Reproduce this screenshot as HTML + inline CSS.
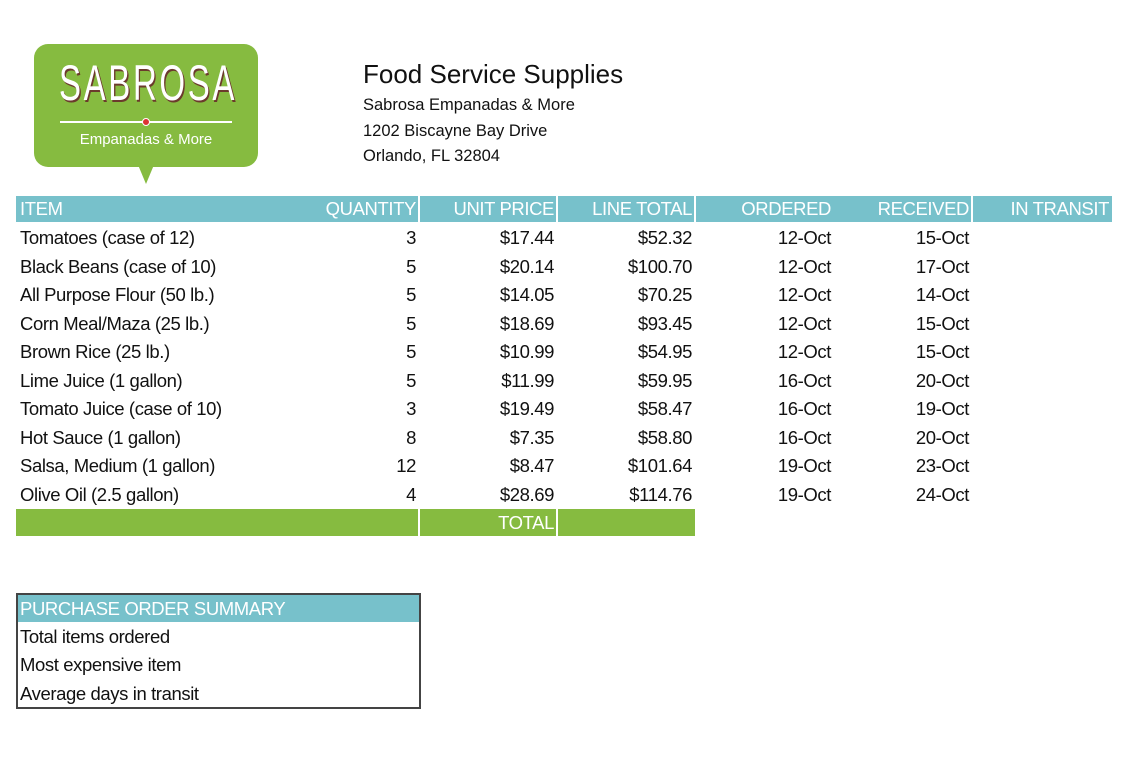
<!DOCTYPE html>
<html><head><meta charset="utf-8">
<style>
body{margin:0;width:1129px;height:758px;background:#fff;position:relative;overflow:hidden;font-family:"Liberation Sans",sans-serif;color:#111}
.a{position:absolute;white-space:nowrap}
.c{position:absolute;font-size:18.5px;line-height:28px;white-space:nowrap;letter-spacing:-0.4px}
.r{text-align:right}
.hd{color:#fff}
</style></head><body>
<div class="a" style="left:34px;top:44px;width:224px;height:123px;background:#86BB40;border-radius:14px"></div>
<div class="a" style="left:136px;top:160px;width:0;height:0;border-left:10px solid transparent;border-right:10px solid transparent;border-top:24px solid #86BB40"></div>
<div class="a" style="left:59px;top:54px;font-size:50px;color:#fff;letter-spacing:4px;transform:scaleX(0.66);transform-origin:0 0;text-shadow:2px 2px 0 #6b3a2c;font-family:'Liberation Sans Narrow','Liberation Sans',sans-serif">SABROSA</div>
<div class="a" style="left:60px;top:121px;width:172px;height:2px;background:#fff"></div>
<div class="a" style="left:142px;top:118px;width:6px;height:6px;background:#d33;border:1px solid #fff;border-radius:50%"></div>
<div class="a" style="left:34px;top:131px;width:224px;text-align:center;font-size:15px;color:#fff">Empanadas &amp; More</div>

<div class="a" style="left:363px;top:59px;font-size:26px">Food Service Supplies</div>
<div class="a" style="left:363px;top:96px;font-size:16.5px">Sabrosa Empanadas &amp; More</div>
<div class="a" style="left:363px;top:122px;font-size:16.5px">1202 Biscayne Bay Drive</div>
<div class="a" style="left:363px;top:147px;font-size:16.5px">Orlando, FL 32804</div>

<div class="a" style="left:16px;top:196px;width:1096px;height:26px;background:#77C1CB"></div>
<div class="a" style="left:418px;top:196px;width:2px;height:26px;background:#fff"></div>
<div class="a" style="left:556px;top:196px;width:2px;height:26px;background:#fff"></div>
<div class="a" style="left:694px;top:196px;width:2px;height:26px;background:#fff"></div>
<div class="a" style="left:971px;top:196px;width:2px;height:26px;background:#fff"></div>

<div id="tbl"></div>

<div class="a" style="left:16px;top:509px;width:679px;height:27px;background:#86BB40"></div>
<div class="a" style="left:418px;top:509px;width:2px;height:27px;background:#fff"></div>
<div class="a" style="left:556px;top:509px;width:2px;height:27px;background:#fff"></div>
<div class="c r hd" style="left:420px;top:509px;width:134px">TOTAL</div>

<div class="a" style="left:16px;top:593px;width:401px;height:112px;border:2px solid #444"></div>
<div class="a" style="left:18px;top:595px;width:401px;height:27px;background:#77C1CB"></div>
<div class="c hd" style="left:20px;top:595px">PURCHASE ORDER SUMMARY</div>
<div class="c" style="left:20px;top:623px">Total items ordered</div>
<div class="c" style="left:20px;top:651px">Most expensive item</div>
<div class="c" style="left:20px;top:680px">Average days in transit</div>

<script>
const headers=["ITEM","QUANTITY","UNIT PRICE","LINE TOTAL","ORDERED","RECEIVED","IN TRANSIT"];
const items=["Tomatoes (case of 12)","Black Beans (case of 10)","All Purpose Flour (50 lb.)","Corn Meal/Maza (25 lb.)","Brown Rice (25 lb.)","Lime Juice (1 gallon)","Tomato Juice (case of 10)","Hot Sauce (1 gallon)","Salsa, Medium (1 gallon)","Olive Oil (2.5 gallon)"];
const qty=["3","5","5","5","5","5","3","8","12","4"];
const price=["$17.44","$20.14","$14.05","$18.69","$10.99","$11.99","$19.49","$7.35","$8.47","$28.69"];
const total=["$52.32","$100.70","$70.25","$93.45","$54.95","$59.95","$58.47","$58.80","$101.64","$114.76"];
const ordered=["12-Oct","12-Oct","12-Oct","12-Oct","12-Oct","16-Oct","16-Oct","16-Oct","19-Oct","19-Oct"];
const received=["15-Oct","17-Oct","14-Oct","15-Oct","15-Oct","20-Oct","19-Oct","20-Oct","23-Oct","24-Oct"];
const cols=[{l:20,w:390,r:false},{l:280,w:136,r:true},{l:420,w:134,r:true},{l:558,w:134,r:true},{l:696,w:135,r:true},{l:834,w:135,r:true},{l:973,w:136,r:true}];
const names=["item","quantity","unit-price","line-total","ordered","received","in-transit"];
const T=document.getElementById('tbl');
function cell(txt,ci,top,hd,nm){
  const d=document.createElement('div');
  d.className='c'+(cols[ci].r?' r':'')+(hd?' hd':'');
  d.style.left=cols[ci].l+'px';d.style.width=cols[ci].w+'px';d.style.top=top+'px';
  d.textContent=txt;
  
  
  T.appendChild(d);
}
headers.forEach((h,i)=>cell(h,i,195,true,'header-'+names[i]));
const data=[items,qty,price,total,ordered,received];
items.forEach((_,r)=>{
  const top=224+r*28.5;
  data.forEach((arr,ci)=>cell(arr[r],ci,top,false,names[ci]+'-cell'));
});
</script>
</body></html>
